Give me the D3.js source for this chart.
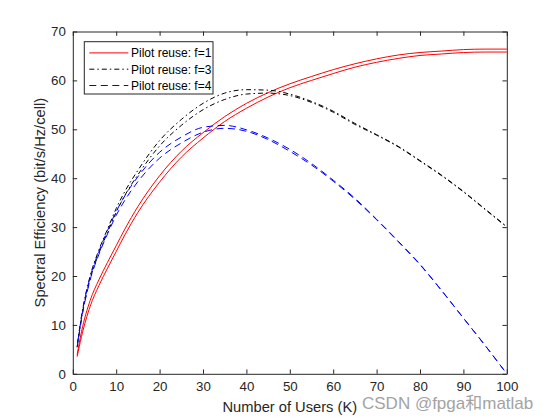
<!DOCTYPE html>
<html>
<head>
<meta charset="utf-8">
<script src="https://cdn.jsdelivr.net/npm/d3@7"></script>
<style>
  html, body { margin: 0; padding: 0; background: #ffffff; }
  svg { display: block; }
  text { font-family: "Liberation Sans", Arial, sans-serif; }
</style>
</head>
<body>
<script>
// ---- data ----
const users = [1, 2, 4, 6, 8, 10, 12, 15, 20, 25, 30, 35, 40, 45, 50, 55, 60, 65, 70, 75, 80, 85, 90, 95, 100];

const reuse1A = [3.9, 8.6, 15.0, 19.2, 22.8, 26.2, 29.6, 34.2, 40.5, 45.5, 49.3, 52.6, 55.3, 57.5, 59.3, 60.8, 62.2, 63.4, 64.4, 65.2, 65.7, 66.0, 66.3, 66.4, 66.4];
const reuse1B = [3.5, 7.6, 13.8, 18.0, 21.6, 25.0, 28.4, 33.0, 39.2, 44.3, 48.2, 51.6, 54.3, 56.6, 58.5, 60.0, 61.4, 62.7, 63.7, 64.5, 65.1, 65.4, 65.7, 65.8, 65.8];

const reuse3A = [5.7, 11.8, 20.0, 25.3, 29.6, 33.8, 37.3, 41.6, 47.7, 52.0, 55.3, 57.4, 58.1, 58.0, 57.2, 55.7, 53.7, 51.2, 48.9, 46.5, 43.6, 40.6, 37.3, 33.7, 30.1];
const reuse3B = [5.5, 11.3, 19.4, 24.6, 28.9, 33.0, 36.5, 40.7, 46.6, 50.8, 54.0, 56.1, 57.2, 57.4, 56.9, 55.5, 53.5, 51.0, 48.8, 46.4, 43.5, 40.5, 37.2, 33.6, 30.0];

const reuse4A = [5.6, 11.6, 19.8, 25.0, 29.3, 33.2, 36.4, 40.3, 45.3, 48.4, 50.4, 50.8, 49.9, 48.2, 45.9, 43.0, 39.6, 35.9, 31.6, 27.1, 22.4, 17.0, 11.4, 5.8, 0.0];
const reuse4B = [5.4, 11.1, 19.2, 24.4, 28.6, 32.4, 35.5, 39.3, 44.1, 47.2, 49.4, 50.2, 49.6, 47.9, 45.5, 42.7, 39.4, 35.7, 31.5, 27.0, 22.3, 17.0, 11.4, 5.8, 0.0];

const legendLabels = ["Pilot reuse: f=1", "Pilot reuse: f=3", "Pilot reuse: f=4"];
const xTicks = [0, 10, 20, 30, 40, 50, 60, 70, 80, 90, 100];
const yTicks = [0, 10, 20, 30, 40, 50, 60, 70];
const xLabel = "Number of Users (K)";
const yLabel = "Spectral Efficiency (bit/s/Hz/cell)";
const watermark = "CSDN @fpga和matlab";

// ---- layout ----
const W = 560, H = 420;
const mLeft = 72.8, mRight = 506.8, mTop = 31.5, mBottom = 373.8;
const axisColor = "#262626";

const svg = d3.select("body").append("svg").attr("width", W).attr("height", H);
svg.append("rect").attr("width", W).attr("height", H).attr("fill", "#ffffff");

const x = d3.scaleLinear().domain([0, 100]).range([mLeft, mRight]);
const y = d3.scaleLinear().domain([0, 70]).range([mBottom, mTop]);

const tick = 4.34;

// axes
const gB = svg.append("g").attr("transform", `translate(0,${mBottom})`)
  .call(d3.axisBottom(x).tickValues(xTicks).tickSizeInner(-tick).tickSizeOuter(0).tickPadding(8));
const gT = svg.append("g").attr("transform", `translate(0,${mTop})`)
  .call(d3.axisTop(x).tickValues(xTicks).tickSizeInner(-tick).tickSizeOuter(0).tickFormat(""));
const gL = svg.append("g").attr("transform", `translate(${mLeft},0)`)
  .call(d3.axisLeft(y).tickValues(yTicks).tickSizeInner(-tick).tickSizeOuter(0).tickPadding(7));
const gR = svg.append("g").attr("transform", `translate(${mRight},0)`)
  .call(d3.axisRight(y).tickValues(yTicks).tickSizeInner(-tick).tickSizeOuter(0).tickFormat(""));

[gB, gT, gL, gR].forEach(g => {
  g.selectAll("path.domain").attr("stroke", axisColor).attr("stroke-width", 1);
  g.selectAll(".tick line").attr("stroke", axisColor).attr("stroke-width", 1);
  g.selectAll(".tick text").attr("fill", axisColor)
    .style("font-family", '"Liberation Sans", Arial, sans-serif').style("font-size", "13.3px");
});

// axis labels
svg.append("text").attr("x", (mLeft + mRight) / 2).attr("y", 412)
  .attr("text-anchor", "middle").attr("fill", axisColor).style("font-size", "14.7px").text(xLabel);
svg.append("text").attr("transform", `translate(45,${(mTop + mBottom) / 2}) rotate(-90)`)
  .attr("text-anchor", "middle").attr("fill", axisColor).style("font-size", "14.7px").text(yLabel);

// lines
const line = d3.line().x((d, i) => x(users[i])).y(d => y(d)).curve(d3.curveMonotoneX);

const styles = [
  { color: "#ff0000", dash: null, period: 0 },
  { color: "#000000", dash: "5,3,1.5,3", period: 12.5 },
  { color: "#0000ff", dash: "7,4.5", period: 11.5 }
];
const seriesSets = [[reuse1A, reuse1B], [reuse3A, reuse3B], [reuse4A, reuse4B]];

const plot = svg.append("g");
seriesSets.forEach((pair, si) => {
  pair.forEach(vals => {
    const p = plot.append("path").datum(vals).attr("d", line)
      .attr("fill", "none").attr("stroke", styles[si].color).attr("stroke-width", 1);
    if (styles[si].dash) {
      // align dash phase at the right end so converging twin curves overlap cleanly
      const L = p.node().getTotalLength();
      const P = styles[si].period;
      p.attr("stroke-dasharray", styles[si].dash)
       .attr("stroke-dashoffset", P - (L % P));
    }
  });
});

// legend
const lg = svg.append("g");
lg.append("rect").attr("x", 84.3).attr("y", 41.7).attr("width", 128.7).attr("height", 52.3)
  .attr("fill", "#ffffff").attr("stroke", axisColor).attr("stroke-width", 1);
legendLabels.forEach((lab, i) => {
  const cy = 52.9 + i * 16.3;
  lg.append("line").attr("x1", 89.3).attr("x2", 128.3).attr("y1", cy).attr("y2", cy)
    .attr("stroke", styles[i].color).attr("stroke-width", 1).attr("stroke-dasharray", styles[i].dash);
  lg.append("text").attr("x", 131).attr("y", cy + 4.3).attr("fill", "#000000")
    .style("font-size", "12px").text(lab);
});

// watermark
svg.append("text").attr("x", 362).attr("y", 409).attr("fill", "#a3a3a3")
  .style("font-family", '"Liberation Sans", "Noto Sans CJK SC", sans-serif')
  .style("font-size", "17px").text(watermark);
</script>
</body>
</html>
